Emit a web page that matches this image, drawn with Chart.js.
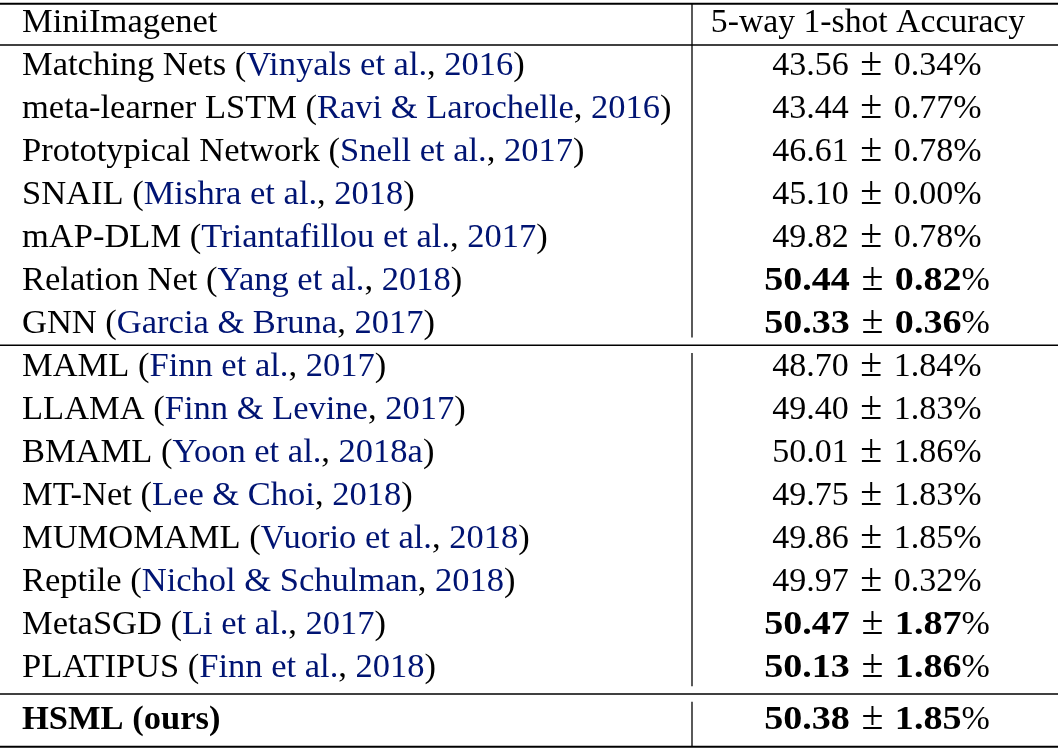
<!DOCTYPE html>
<html>
<head>
<meta charset="utf-8">
<script src="https://cdn.jsdelivr.net/npm/chart.js@4.4.1/dist/chart.umd.min.js"></script>
<style>
html,body{margin:0;padding:0;background:#fff;}
#wrap{width:1061px;height:752px;}
</style>
</head>
<body>
<div id="wrap"><canvas id="c" width="1061" height="752"></canvas></div>
<script>
// ---- data ----
const headerLeft = "MiniImagenet";
const headerRight = "5-way 1-shot Accuracy";
const methods = ["Matching Nets","meta-learner LSTM","Prototypical Network","SNAIL","mAP-DLM","Relation Net","GNN",
  "MAML","LLAMA","BMAML","MT-Net","MUMOMAML","Reptile","MetaSGD","PLATIPUS","HSML (ours)"];
const citeAuthors = ["Vinyals et al.","Ravi & Larochelle","Snell et al.","Mishra et al.","Triantafillou et al.","Yang et al.","Garcia & Bruna",
  "Finn et al.","Finn & Levine","Yoon et al.","Lee & Choi","Vuorio et al.","Nichol & Schulman","Li et al.","Finn et al.",""];
const citeYears = ["2016","2016","2017","2018","2017","2018","2017",
  "2017","2017","2018a","2018","2018","2018","2017","2018",""];
const accMean = ["43.56","43.44","46.61","45.10","49.82","50.44","50.33",
  "48.70","49.40","50.01","49.75","49.86","49.97","50.47","50.13","50.38"];
const accStd = ["0.34","0.77","0.78","0.00","0.78","0.82","0.36",
  "1.84","1.83","1.86","1.83","1.85","0.32","1.87","1.86","1.85"];
const isBest = [false,false,false,false,false,true,true,
  false,false,false,false,false,false,true,true,true];
const sectionOf = [0,0,0,0,0,0,0,1,1,1,1,1,1,1,1,2];

// ---- layout (style) ----
const FS = 34.5;      // text font size
const NFS = 34;       // number font size
const PMFS = 40;      // plus-minus glyph size (math sign is larger)
const BOLD_SX = 1.12; // bold digits are wider (extended bold)
const PM_PAD = 3;     // extra math spacing around the plus-minus sign
const serif = "'Liberation Serif','Times New Roman',serif";
const citeColor = "rgb(0,20,115)";
const ink = "#000";

function rowPos(i){
  const base = i + 1;
  return sectionOf[i] === 2 ? base + 0.2 : base;
}
const rulePos = [-0.47, 0.49, 7.47, 15.58, 16.81];
const ruleWidth = [2, 1.6, 1.6, 1.6, 2];

const points = methods.map((m,i)=>({x:877, y:rowPos(i)}));

function drawRuns(ctx, runs, x, y, align){
  let total = 0;
  runs.forEach(r=>{ctx.font = r.font; r.w = ctx.measureText(r.text).width * (r.sx||1) + 2*(r.pad||0); total += r.w;});
  let cx = align === 'center' ? x - total/2 : x;
  runs.forEach(r=>{
    ctx.font = r.font; ctx.fillStyle = r.color;
    const tx = cx + (r.pad||0);
    if (r.sx && r.sx !== 1) {
      ctx.save(); ctx.translate(tx, y); ctx.scale(r.sx, 1); ctx.fillText(r.text, 0, 0); ctx.restore();
    } else ctx.fillText(r.text, tx, y);
    cx += r.w;
  });
}

const tablePlugin = {
  id:'tablePlugin',
  afterDatasetsDraw(chart){
    const ctx = chart.ctx, xs = chart.scales.x, ys = chart.scales.y;
    const reg = `${FS}px ${serif}`, bold = `bold ${FS}px ${serif}`;
    const hreg = `${FS-0.8}px ${serif}`;
    const nreg = `${NFS}px ${serif}`, nbold = `bold ${NFS}px ${serif}`;
    const pmf = `${PMFS}px ${serif}`, sp = `${NFS}px ${serif}`;
    const leftX = xs.getPixelForValue(22), rightX = xs.getPixelForValue(877);
    const vx = xs.getPixelForValue(692);
    const base = v => ys.getPixelForValue(v) + 8;
    ctx.save();
    ctx.textBaseline = 'alphabetic';
    drawRuns(ctx,[{text:headerLeft,font:reg,color:ink}], leftX, base(0),'left');
    drawRuns(ctx,[{text:headerRight,font:hreg,color:ink}], xs.getPixelForValue(868), base(0),'center');
    methods.forEach((m,i)=>{
      const y = base(rowPos(i));
      const nameFont = sectionOf[i]===2 ? bold : reg;
      const runs = [{text:m,font:nameFont,color:ink}];
      if (citeAuthors[i]) {
        runs.push({text:' (',font:reg,color:ink},{text:citeAuthors[i],font:reg,color:citeColor},
                  {text:', ',font:reg,color:ink},{text:citeYears[i],font:reg,color:citeColor},
                  {text:')',font:reg,color:ink});
      }
      drawRuns(ctx, runs, leftX, y, 'left');
      const b = isBest[i];
      drawRuns(ctx,[{text:accMean[i],font:b?nbold:nreg,color:ink,sx:b?BOLD_SX:1},
                    {text:' ',font:sp,color:ink},
                    {text:'\u00B1',font:pmf,color:ink,pad:PM_PAD},
                    {text:' ',font:sp,color:ink},
                    {text:accStd[i],font:b?nbold:nreg,color:ink,sx:b?BOLD_SX:1},
                    {text:'%',font:nreg,color:ink}], rightX, y, 'center');
    });
    ctx.strokeStyle = ink;
    const x0 = xs.getPixelForValue(0), x1 = xs.getPixelForValue(1058);
    rulePos.forEach((p,k)=>{
      ctx.lineWidth = ruleWidth[k];
      const y = ys.getPixelForValue(p);
      ctx.beginPath(); ctx.moveTo(x0,y); ctx.lineTo(x1,y); ctx.stroke();
    });
    ctx.lineWidth = 1.3;
    const g = 0.18;
    const segs = [[rulePos[0], rulePos[2]-g],[rulePos[2]+g, rulePos[3]-g],[rulePos[3]+g, rulePos[4]]];
    segs.forEach(s=>{
      ctx.beginPath(); ctx.moveTo(vx, ys.getPixelForValue(s[0])); ctx.lineTo(vx, ys.getPixelForValue(s[1])); ctx.stroke();
    });
    ctx.restore();
  }
};

new Chart(document.getElementById('c'), {
  type:'scatter',
  data:{datasets:[{data:points, pointRadius:0, showLine:false}]},
  options:{
    responsive:false, animation:false,
    layout:{padding:0},
    plugins:{legend:{display:false}, tooltip:{enabled:false}},
    scales:{
      x:{type:'linear', min:0, max:1061, display:false},
      y:{type:'linear', min:-24/43, max:728/43, reverse:true, display:false}
    }
  },
  plugins:[tablePlugin]
});
</script>
</body>
</html>
